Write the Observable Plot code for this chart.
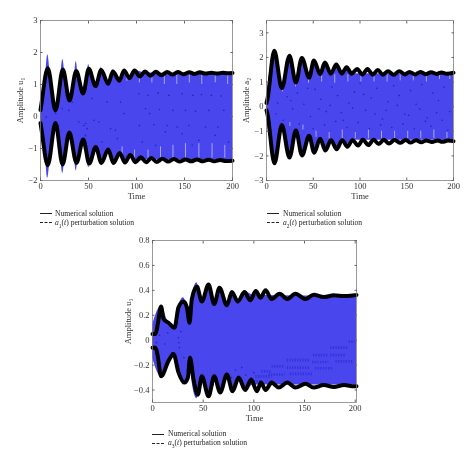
<!DOCTYPE html>
<html><head><meta charset="utf-8">
<script src="https://cdn.jsdelivr.net/npm/d3@7"></script>
<script src="https://cdn.jsdelivr.net/npm/@observablehq/plot@0.6"></script>
<style>
html,body{margin:0;padding:0;background:#fff;width:474px;height:465px;overflow:hidden}
#page{position:relative;width:474px;height:465px;font-family:"Liberation Serif",serif;color:#222}
#page svg{position:absolute;overflow:visible;background:transparent;filter:blur(.3px)}
.lg{position:absolute;font-size:7.6px;line-height:9px;white-space:nowrap;filter:blur(.2px)}
.sw{position:absolute;width:12px;height:0}
sub{font-size:5.5px;line-height:0}
</style></head><body><div id="page"></div>
<script>
// Panel 1
const upT1=[0,1,7.6,15.6,23.3,30.2,37.2,44.4,50.3,57.3,63.2,70.5,75.4,82.3,87,92.7,98,103.5,109,114.5,120,126,132,137.5,143,149,155,160.5,166,172,178,184,190,195,200];
const upV1=[.2,.4,1.51,.19,1.47,.5,1.42,.72,1.49,.95,1.45,1.02,1.41,1.12,1.44,1.2,1.44,1.25,1.41,1.27,1.4,1.29,1.39,1.31,1.39,1.32,1.38,1.33,1.38,1.34,1.37,1.34,1.37,1.35,1.36];
const loT1=[0,1,7.6,15.6,23,30,37.5,44.5,50.8,57.5,63.5,70.5,76,82.5,88,93.5,99,104.5,110,115.5,121,127,133,139,145,151,157,163,169,175,181,187,193,200];
const loV1=[-.2,-.4,-1.52,-.2,-1.5,-.5,-1.45,-.72,-1.47,-.95,-1.45,-1.03,-1.45,-1.14,-1.44,-1.2,-1.43,-1.27,-1.43,-1.3,-1.42,-1.32,-1.41,-1.33,-1.41,-1.34,-1.4,-1.34,-1.4,-1.35,-1.4,-1.36,-1.39,-1.38];
const bandT1=[0,5,7.6,10.5,15.6,20.5,23.3,26,30.2,35,37.2,39.5,44.4,48,50.3,52.5,57.3,63.2,70.5,75.4,82.3,87,92.7,98,110,200];
const bandUp1=[.2,1.2,1.93,1.2,.2,1.1,1.78,1.15,.5,1.15,1.72,1.2,.72,1.3,1.62,1.3,.95,1.52,1.02,1.46,1.12,1.46,1.2,1.44,1.36,1.34];
const bandLo1=[-.2,-1.2,-1.93,-1.2,-.2,-1.1,-1.78,-1.15,-.5,-1.15,-1.7,-1.2,-.72,-1.3,-1.6,-1.3,-.95,-1.5,-1.03,-1.46,-1.14,-1.45,-1.2,-1.44,-1.36,-1.36];
const gapT1=[90,103,116,129,142,155,168,182,195,85,98,112,125,138,151,165,178.7,192];
const gapA1=[1.1,1.05,1.05,1.0,1.0,1.05,1.0,1.05,1.0,-.95,-1.05,-1.05,-.95,-.9,-.85,-.85,-.85,-.9];
const gapB1=[1.3,1.3,1.3,1.3,1.3,1.3,1.3,1.3,1.3,-1.3,-1.3,-1.3,-1.3,-1.3,-1.3,-1.3,-1.3,-1.3];
const dotT1=[102.5,112,122.6,133.7,147.6,158.7,167.7,178,188,109.4,113.6,124,138,151,161.5,175.3,191,103,118,132,142.4,154.5,172,184.7,106,130,147.6,165,182,120,158,196,6,16,19,22.5,29.5,33,40,47,53.8,55.5,60.7,69.4,73,78,83.3,87,48.6,45,46.8,64,80];
const dotV1=[.71,.66,.73,.66,.71,.66,.68,.66,.64,.24,.09,.22,.19,.19,.16,.19,.19,-.28,-.26,-.28,-.33,-.28,-.33,-.33,-.8,-.48,-.54,-.74,-.59,-.9,-.9,-.8,-.02,.09,-.28,.24,.19,.45,-.17,-.22,.56,-.12,-.17,.45,-.38,-.43,.45,.09,-.38,-.28,-.59,-.8,-.69];
// Panel 2
const upT2=[0,1,8.3,16.4,24.6,31.4,37.8,45.6,50.7,57.4,62.5,68.8,74.6,80.5,85.7,91,97,102.5,108,113.5,119,124.5,130,136,142,148,153,159,164.5,170,176,182,187,193,200];
const upV2=[.15,.3,2.27,.75,2.07,.98,1.98,1.18,1.87,1.32,1.79,1.34,1.71,1.34,1.6,1.34,1.53,1.3,1.53,1.3,1.49,1.3,1.44,1.3,1.44,1.31,1.41,1.31,1.41,1.32,1.4,1.33,1.39,1.34,1.38];
const loT2=[0,1,8.5,16.4,24.6,31.4,38,45.6,51,57.4,63,69,75,81,86.5,92,98,103,109,114.5,120,125.5,131,137,143,149,154,160,165.5,171,177,183,188,194,200];
const loV2=[-.15,-.3,-2.3,-.75,-2.07,-.97,-1.98,-1.18,-1.87,-1.3,-1.78,-1.36,-1.73,-1.36,-1.63,-1.36,-1.58,-1.34,-1.56,-1.34,-1.52,-1.34,-1.5,-1.35,-1.47,-1.35,-1.46,-1.36,-1.45,-1.37,-1.44,-1.37,-1.43,-1.38,-1.4];
const bandT2=[0,8.3,16.4,24.6,31.4,37.8,45.6,50.7,57.4,62.5,68.8,74.6,80.5,85.7,91,200];
const bandUp2=[.15,2.2,.75,2,.98,1.9,1.18,1.8,1.32,1.72,1.34,1.65,1.34,1.55,1.34,1.32];
const bandLo2=[-.15,-2.2,-.75,-2,-.97,-1.9,-1.18,-1.8,-1.3,-1.72,-1.36,-1.65,-1.36,-1.55,-1.36,-1.36];
const gapT2=[17,31,45,59,73,87,101,115,129,143,157,171,185,196,25,39,53,67,81,95,109,123,137,151,165,179,193];
const gapA2=[.6,.8,.95,1.0,.95,1.0,1.0,1.0,1.0,1.05,1.05,1.0,1.1,1.1,-.65,-.75,-1.0,-1.05,-.95,-1.05,-.95,-1.0,-1.0,-1.0,-1.0,-.95,-1.05];
const gapB2=[.75,1,1.2,1.3,1.3,1.3,1.3,1.3,1.3,1.3,1.3,1.3,1.3,1.3,-.8,-.95,-1.25,-1.3,-1.3,-1.3,-1.3,-1.3,-1.3,-1.3,-1.3,-1.3,-1.3];
const dotT2=[12,22,28,33,40,47,52,58,64,70,76,82,88,94,100,106,112,118,124,130,136,142,148,154,160,166,172,178,184,190,196,10,18,26,35,44,50,56,62,68,74,80,86,92,98,104,110,116,122,128,134,140,146,152,158,164,170,176,182,188,194];
const dotV2=[.15,.4,-.1,.55,.1,-.4,.7,.3,-.2,.8,.45,-.55,.15,.6,.95,-.15,.35,.75,-.5,.2,.85,.45,-.3,.65,.1,.9,-.45,.55,.25,.8,-.2,-.3,-.55,.25,-.7,.75,-.9,-.1,-.75,.05,-.6,-.25,-.85,-.05,-.65,.5,-.9,-.3,-.75,-.15,-.85,.05,-.7,-.35,-.9,-.1,-.6,-.8,-.25,-.55,-.95];
// Panel 3
const upT3=[0,3,5,8.5,10.9,15.8,21.7,25.7,30.6,33.9,36.5,38.8,43.8,48.7,55.3,60.9,66.1,73.4,78.3,84.2,90.8,96.4,102,106.5,111.6,117.5,125.4,133,141,151,159,169,179,189,199,201.3];
const upV3=[.05,.05,.12,.27,.17,.14,.10,.265,.31,.265,.14,.33,.43,.31,.446,.29,.42,.28,.387,.31,.387,.32,.395,.34,.40,.33,.373,.33,.373,.33,.365,.346,.36,.354,.36,.362];
const loT3=[0,3,5,8.5,15.8,20.7,25.7,31.6,34.9,37,40.5,44.7,48.7,55.3,60.9,66.8,73.4,79,85,91.5,97.4,103,107,111.6,117.5,124.7,133,141,151,159,169,179,189,199,201.3];
const loV3=[-.06,-.06,-.12,-.29,-.166,-.11,-.26,-.34,-.30,-.14,-.315,-.437,-.29,-.45,-.29,-.42,-.275,-.41,-.30,-.40,-.315,-.41,-.34,-.40,-.34,-.38,-.34,-.38,-.35,-.38,-.36,-.375,-.36,-.37,-.37];
const bandT3=[0,8.5,15.8,21.7,25.7,30.6,33.9,36.5,38.8,43.8,48.7,55.3,60.9,66.1,73.4,78.3,84.2,90.8,100,201.3];
const bandUp3=[.12,.27,.14,.1,.27,.34,.27,.14,.33,.46,.31,.45,.29,.42,.28,.39,.31,.39,.36,.35];
const bandLo3=[-.14,-.29,-.17,-.11,-.26,-.36,-.3,-.14,-.32,-.47,-.29,-.45,-.29,-.42,-.275,-.41,-.3,-.4,-.36,-.36];
const dotT3=[4,7,12,15,19,25.5,26,26.5,31,35,28,60,70,78,82,88,92,96,100];
const dotV3=[-.02,.04,-.03,.06,-.1,.02,-.02,-.06,-.14,-.2,.07,-.36,-.34,-.3,-.24,-.22,-.28,-.32,-.26];
const rowT0=[133,133,136,159,158,161,176,176,181,194,118,115,102,108,98];
const rowT1=[156,156,159,174,174,179,194,190,199,200,130,131,118,118,108];
const rowV=[-.16,-.22,-.27,-.12,-.175,-.225,-.06,-.12,-.17,-.01,-.21,-.275,-.29,-.25,-.33];
// Axes
const xTicks=[0,50,100,150,200];
const yTicks1=[-2,-1,0,1,2,3];
const yTicks2=[-3,-2,-1,0,1,2,3];
const yTicks3=[-.4,-.2,0,.2,.4,.6,.8];
const fmt3=d=>d===0?"0":d3.format(".1f")(d).replace("-","\u2212");
const fmt=d=>String(d).replace("-","\u2212");

const BLUE="#4a46ee", DARK="#2323b4";
const zip=(xs,ys)=>xs.map((x,i)=>({x,y:ys[i]}));

function panel(o){
  const W=o.right-o.left, H=o.bottom-o.top, ml=32, mr=8, mt=6, mb=32;
  const band=o.bandT.map((x,i)=>({x,a:o.bandUp[i],b:o.bandLo[i]}));
  const marks=[
    Plot.areaY(band,{x:"x",y1:"a",y2:"b",fill:BLUE,curve:"monotone-x"})
  ];
  if(o.gapT) marks.push(Plot.ruleX(o.gapT.map((x,i)=>({x,a:o.gapA[i],b:o.gapB[i]})),{x:"x",y1:"a",y2:"b",stroke:"#cfd0fa",strokeWidth:.7}));
  marks.push(Plot.dot(zip(o.dotT,o.dotV),{x:"x",y:"y",r:.8,fill:DARK}));
  if(o.rowT0) marks.push(Plot.ruleY(o.rowT0.map((x,i)=>({x1:x,x2:o.rowT1[i],y:o.rowV[i]})),{x1:"x1",x2:"x2",y:"y",stroke:"#3030dc",strokeWidth:2.6,strokeDasharray:"1.2 1.4"}));
  marks.push(
    Plot.line(zip(o.upT,o.upV),{x:"x",y:"y",stroke:"#000",strokeWidth:4,curve:"monotone-x",strokeLinecap:"round"}),
    Plot.line(zip(o.loT,o.loV),{x:"x",y:"y",stroke:"#000",strokeWidth:4,curve:"monotone-x",strokeLinecap:"round"}),
    Plot.frame({stroke:"#808080",strokeWidth:.8}),
    Plot.axisX({anchor:"bottom",ticks:xTicks,tickSize:-2.5,tickPadding:4.5,label:o.xl,labelAnchor:"center",labelArrow:"none",labelOffset:18.5,stroke:"#666"}),
    Plot.axisX({anchor:"top",ticks:xTicks,tickSize:-2.5,tickFormat:()=>null,label:null,stroke:"#666"}),
    Plot.axisY({anchor:"left",ticks:o.yTicks,tickSize:-2.5,tickPadding:5.5,tickFormat:o.fmt,label:o.yl,labelAnchor:"center",labelArrow:"none",labelOffset:o.yo,stroke:"#666"}),
    Plot.axisY({anchor:"right",ticks:o.yTicks,tickSize:-2.5,tickFormat:()=>null,label:null,stroke:"#666"})
  );
  const svg=Plot.plot({
    width:W+ml+mr,height:H+mt+mb,marginLeft:ml,marginRight:mr,marginTop:mt,marginBottom:mb,
    x:{domain:o.xd,ticks:xTicks},y:{domain:o.yd},
    style:{background:"transparent",fontFamily:"'Liberation Serif',serif",fontSize:"8.5px",color:"#333"},
    marks
  });
  svg.style.left=(o.left-ml)+"px"; svg.style.top=(o.top-mt)+"px";
  document.getElementById("page").appendChild(svg);
  const p=document.getElementById("page");
  const add=(y,html,dash)=>{
    const s=document.createElement("div");s.className="sw";s.style.left=o.lx+"px";s.style.top=(y+4.5)+"px";
    s.style.borderTop=dash?"1px dashed #222":"1px solid #222";p.appendChild(s);
    const d=document.createElement("div");d.className="lg";d.style.left=(o.lx+o.tx)+"px";d.style.top=y+"px";d.innerHTML=html;p.appendChild(d);
  };
  add(o.ly,"Numerical solution",false);
  add(o.ly+9,o.pert,true);
}
panel({left:40,right:232,top:20,bottom:180,xd:[0,200],yd:[-2,3],yTicks:yTicks1,fmt,xl:"Time",yl:"Amplitude u\u2081",yo:24,
  upT:upT1,upV:upV1,loT:loT1,loV:loV1,bandT:bandT1,bandUp:bandUp1,bandLo:bandLo1,gapT:gapT1,gapA:gapA1,gapB:gapB1,dotT:dotT1,dotV:dotV1,
  lx:40,tx:15,ly:208.5,pert:"<i>a</i><sub>1</sub>(<i>t</i>) perturbation solution"});
panel({left:266,right:453,top:19.5,bottom:179.5,xd:[0,200],yd:[-3,3.5],yTicks:yTicks2,fmt,xl:"Time",yl:"Amplitude a\u2082",yo:24,
  upT:upT2,upV:upV2,loT:loT2,loV:loV2,bandT:bandT2,bandUp:bandUp2,bandLo:bandLo2,gapT:gapT2,gapA:gapA2,gapB:gapB2,dotT:dotT2,dotV:dotV2,
  lx:267,tx:16,ly:208.5,pert:"<i>a</i><sub>2</sub>(<i>t</i>) perturbation solution"});
panel({left:152,right:356,top:240,bottom:402,xd:[0,201.3],yd:[-.5,.8],yTicks:yTicks3,fmt:fmt3,xl:"Time",yl:"Amplitude u\u2083",yo:28,
  upT:upT3,upV:upV3,loT:loT3,loV:loV3,bandT:bandT3,bandUp:bandUp3,bandLo:bandLo3,dotT:dotT3,dotV:dotV3,rowT0,rowT1,rowV,
  lx:152,tx:16,ly:429,pert:"<i>a</i><sub>3</sub>(<i>t</i>) perturbation solution"});
</script></body></html>
